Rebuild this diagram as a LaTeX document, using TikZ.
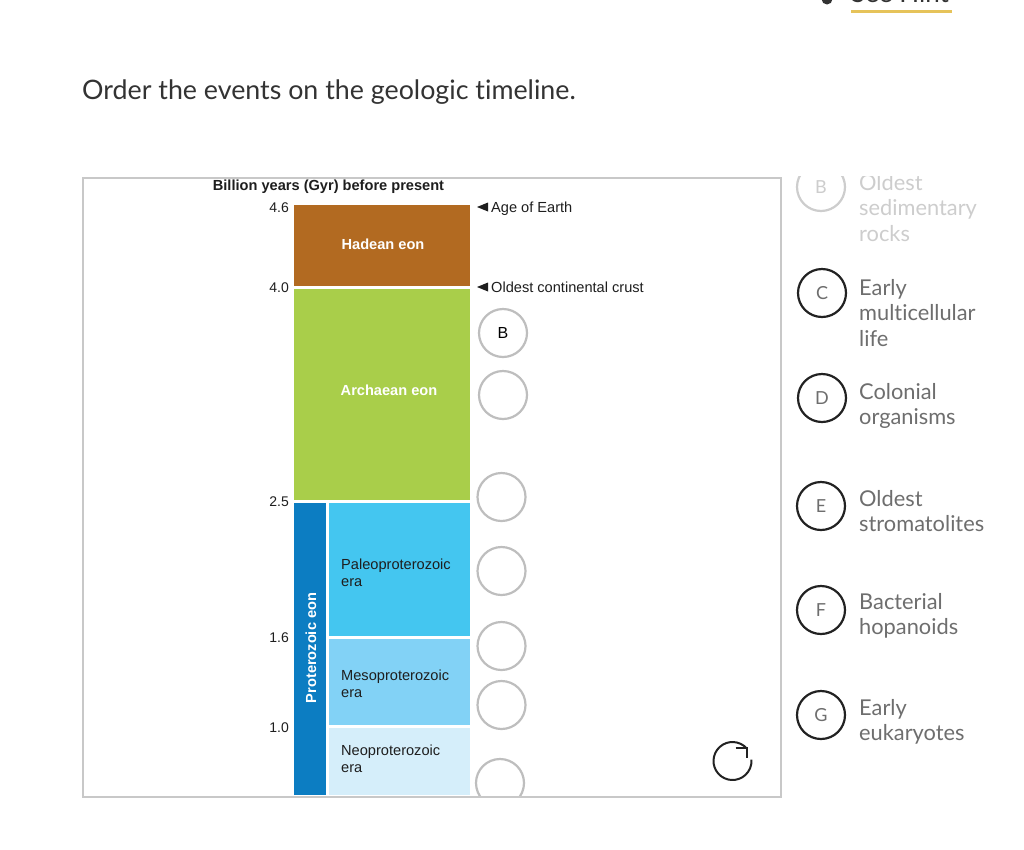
\documentclass[tikz,border=0pt]{standalone}
\usepackage{fontspec}
\usetikzlibrary{calc}
\setmainfont{Liberation Sans}
\newfontfamily\lato[Ligatures=NoCommon]{Lato}
\definecolor{hadean}{RGB}{178,106,33}
\definecolor{archaean}{RGB}{169,206,74}
\definecolor{proteon}{RGB}{12,125,194}
\definecolor{paleo}{RGB}{68,198,240}
\definecolor{meso}{RGB}{130,210,246}
\definecolor{neo}{RGB}{213,238,250}
\definecolor{framegray}{RGB}{200,200,200}
\definecolor{slotgray}{RGB}{190,190,190}
\definecolor{titlegray}{RGB}{51,51,51}
\definecolor{optgray}{RGB}{110,110,110}
\definecolor{faded}{RGB}{205,205,205}
\definecolor{optdark}{RGB}{34,34,34}
\definecolor{hintyellow}{RGB}{230,195,90}
\definecolor{labgray}{RGB}{30,30,30}
\begin{document}
\begin{tikzpicture}[x=1pt,y=-1pt,
  every node/.style={inner sep=0pt},
  block/.style={anchor=north west, minimum width=#1, line width=0pt},
  whitelab/.style={text=white, font=\bfseries\fontsize{14.6}{17}\selectfont},
  eralab/.style={anchor=west, align=left, text=labgray, font=\fontsize{14.6}{16.5}\selectfont},
  tick/.style={anchor=base east, text=labgray, font=\fontsize{14}{16}\selectfont},
  pointer/.style={anchor=base west, text=labgray, font=\fontsize{14.6}{17}\selectfont},
  slot/.style={circle, draw=slotgray, line width=2.2pt, minimum size=48pt, font=\fontsize{16}{18}\selectfont},
  opt/.style={circle, draw=optdark, line width=2.2pt, minimum size=48pt, text=optgray, font=\lato\fontsize{18}{20}\selectfont},
  opttext/.style={anchor=west, align=left, text=optgray, font=\lato\fontsize{21.8}{25.5}\selectfont},
]
\useasboundingbox (0,0) rectangle (1024,849);
\fill[white] (0,0) rectangle (1024,849);

% hint (cut off at top)
\begin{scope}
\clip (0,0) rectangle (1024,849);
\fill[titlegray] (827,-1) circle (5.5);
\node[anchor=base west, text=titlegray, font=\lato\fontsize{26}{28}\selectfont] (hint) at (851,2.5) {See Hint};
\draw[hintyellow, line width=3pt] (851,11.5) -- (952,11.5);
\end{scope}

% title
\node[anchor=base west, text=titlegray, font=\lato\fontsize{26.8}{30}\selectfont] (title) at (82,99) {Order the events on the geologic timeline.};

% frame
\node[draw=framegray, line width=2pt, anchor=north west, minimum width=698pt, minimum height=619pt] (frame) at (82,177) {};

% header
\node[anchor=base, text=labgray, font=\bfseries\fontsize{14.6}{17}\selectfont] (hdr) at (328.5,190) {Billion years (Gyr) before present};

% ticks
\node[tick] (t46) at (289,212) {4.6};
\node[tick] (t40) at (289,292) {4.0};
\node[tick] (t25) at (289,506) {2.5};
\node[tick] (t16) at (289,642) {1.6};
\node[tick] (t10) at (289,732) {1.0};

% eons and eras
\node[block=176pt, minimum height=81pt, fill=hadean] (hadean) at (294,205) {};
\node[whitelab] (hadeanlab) at (383,244) {Hadean eon};
\node[block=176pt, minimum height=211pt, fill=archaean] (archaean) at (294,289) {};
\node[whitelab] (archaeanlab) at (389,390) {Archaean eon};
\node[block=32pt, minimum height=292pt, fill=proteon] (proteon) at (294,503) {};
\node[whitelab, rotate=90] (proteonlab) at (311,648) {Proterozoic eon};
\node[block=141pt, minimum height=133pt, fill=paleo] (paleo) at (329,503) {};
\node[eralab] (paleolab) at (341,573) {Paleoproterozoic\\era};
\node[block=141pt, minimum height=86pt, fill=meso] (meso) at (329,639) {};
\node[eralab] (mesolab) at (341,684) {Mesoproterozoic\\era};
\node[block=141pt, minimum height=67pt, fill=neo] (neo) at (329,728) {};
\node[eralab] (neolab) at (341,759) {Neoproterozoic\\era};

% pointers
\fill[labgray] (477,207) -- (488,202.5) -- (488,211.5) -- cycle;
\node[pointer] (ageearth) at (491,212) {Age of Earth};
\fill[labgray] (477,287) -- (488,282.5) -- (488,291.5) -- cycle;
\node[pointer] (crust) at (491,292) {Oldest continental crust};

% slots
\begin{scope}
\clip (83,178) rectangle (779,795);
\node[slot] (s1) at (503,333) {B};
\node[slot] (s2) at (503,395) {};
\node[slot] (s3) at (501.5,497) {};
\node[slot] (s4) at (501.5,571) {};
\node[slot] (s5) at (501.5,646) {};
\node[slot] (s6) at (501.5,705) {};
\node[slot] (s7) at (500,783) {};
\end{scope}

% reset icon
\begin{scope}[shift={(732.5,761)}, y=1pt]
\coordinate (rtip) at (42:19);
\draw[line width=2pt, optdark] (rtip) arc[start angle=42, end angle=364, radius=19];
\draw[line width=2pt, optdark, line join=miter] ($(rtip)+(-11,0)$) -- (rtip) -- ($(rtip)+(0,-10)$);
\end{scope}

% options
\begin{scope}
\clip (785,176) rectangle (1024,849);
\node[opt, draw=faded, text=faded] (ob) at (821,187) {B};
\node[opttext, text=faded] (obt) at (859,208) {Oldest\\sedimentary\\rocks};
\end{scope}
\node[opt] (oc) at (822,293) {C};
\node[opttext] (oct) at (859,313) {Early\\multicellular\\life};
\node[opt] (od) at (822,398) {D};
\node[opttext] (odt) at (859,406) {Colonial\\organisms};
\node[opt] (oe) at (821,506) {E};
\node[opttext] (oet) at (859,511) {Oldest\\stromatolites};
\node[opt] (of) at (821,610) {F};
\node[opttext] (oft) at (859,616) {Bacterial\\hopanoids};
\node[opt] (og) at (821,715) {G};
\node[opttext] (ogt) at (859,722) {Early\\eukaryotes};
\end{tikzpicture}
\end{document}
